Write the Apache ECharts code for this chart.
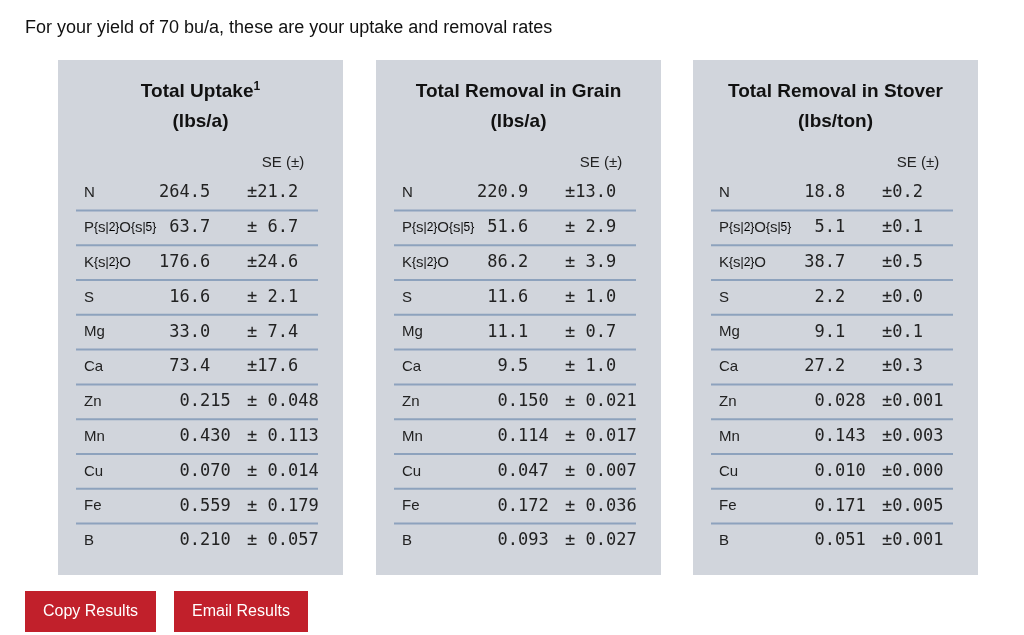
<!DOCTYPE html>
<html>
  <head>
    <meta charset="UTF-8" />
    <script src="https://cdn.jsdelivr.net/npm/echarts@6/dist/echarts.min.js"></script>
    <style>body{margin:0;background:#fff}</style>
  </head>
  <body>
    <div id="main"></div>
    <script>
      const width = 1024;
      const height = 635;
      const main = document.getElementById('main');
      main.style.width = `${width}px`;
      main.style.height = `${height}px`;

      const nutrients = ['N', 'P2O5', 'K2O', 'S', 'Mg', 'Ca', 'Zn', 'Mn', 'Cu', 'Fe', 'B'];
      const panelTitles = ['Total Uptake', 'Total Removal in Grain', 'Total Removal in Stover'];
      const panelUnits = ['(lbs/a)', '(lbs/a)', '(lbs/ton)'];
      const uptake = ['264.5', '63.7', '176.6', '16.6', '33.0', '73.4', '0.215', '0.430', '0.070', '0.559', '0.210'];
      const uptakeSE = ['±21.2', '± 6.7', '±24.6', '± 2.1', '± 7.4', '±17.6', '± 0.048', '± 0.113', '± 0.014', '± 0.179', '± 0.057'];
      const grain = ['220.9', '51.6', '86.2', '11.6', '11.1', '9.5', '0.150', '0.114', '0.047', '0.172', '0.093'];
      const grainSE = ['±13.0', '± 2.9', '± 3.9', '± 1.0', '± 0.7', '± 1.0', '± 0.021', '± 0.017', '± 0.007', '± 0.036', '± 0.027'];
      const stover = ['18.8', '5.1', '38.7', '2.2', '9.1', '27.2', '0.028', '0.143', '0.010', '0.171', '0.051'];
      const stoverSE = ['±0.2', '±0.1', '±0.5', '±0.0', '±0.1', '±0.3', '±0.001', '±0.003', '±0.010', '±0.005', '±0.001'];
      stoverSE[8] = '±0.000';

      const panels = [
        { values: uptake, se: uptakeSE },
        { values: grain, se: grainSE },
        { values: stover, se: stoverSE },
      ];
      const panelLeft = [58, 376, 693];
      const panelWidth = 285;
      const sans = 'Liberation Sans, Arial, sans-serif';
      const mono = 'DejaVu Sans Mono, monospace';
      const rowGap = 34.8;

      // pad integer part so decimal points line up
      const alignDec = (s) => s.split('.')[0].padStart(3, ' ') + '.' + s.split('.')[1];
      const labelRich = (n) =>
        n.replace(/(\d)/g, '{s|$1}').replace(/([A-Za-z]+)/g, '{t|$1}');

      const grids = [], xAxes = [], yAxes = [], series = [], graphics = [];
      graphics.push({
        type: 'text', left: 25, top: 19,
        style: { text: 'For your yield of 70 bu/a, these are your uptake and removal rates', font: `18px ${sans}`, fill: '#111' },
      });

      panels.forEach((p, i) => {
        const L = panelLeft[i];
        graphics.push({ type: 'rect', z: -10, shape: { x: L, y: 60, width: panelWidth, height: 515 }, style: { fill: '#d1d5dc' } });
        graphics.push({
          type: 'text', z: 5, x: L + panelWidth / 2, y: 92,
          style: {
            text: i === 0 ? `{b|${panelTitles[i]}}{sup|1}` : `{b|${panelTitles[i]}}`,
            align: 'center', verticalAlign: 'middle',
            rich: { b: { font: `bold 19px ${sans}`, fill: '#111' }, sup: { font: `bold 12px ${sans}`, fill: '#111', verticalAlign: 'top', padding: [0, 0, 10, 0] } },
          },
        });
        graphics.push({ type: 'text', z: 5, x: L + panelWidth / 2, y: 122, style: { text: panelUnits[i], font: `bold 19px ${sans}`, fill: '#111', align: 'center', verticalAlign: 'middle' } });
        graphics.push({ type: 'text', z: 5, x: L + 225, y: 163, style: { text: 'SE (±)', font: `15px ${sans}`, fill: '#222', align: 'center', verticalAlign: 'middle' } });

        grids.push({ left: L + 18, width: 242, top: 193 - rowGap / 2, height: rowGap * nutrients.length });
        xAxes.push({ gridIndex: i, type: 'value', min: 0, max: 1, show: false });
        yAxes.push({ gridIndex: i, type: 'category', data: nutrients, inverse: true, show: false });
        series.push({
          type: 'custom', xAxisIndex: i, yAxisIndex: i,
          data: nutrients.map((n, r) => [0, r, p.values[r], p.se[r]]),
          renderItem: (params, api) => {
            const r = api.value(1);
            const y = api.coord([0, r])[1];
            const x0 = api.coord([0, r])[0];
            const x1 = api.coord([1, r])[0];
            const children = [
              { type: 'text', style: { x: x0 + 8, y, text: labelRich(nutrients[r]), verticalAlign: 'middle',
                rich: { t: { font: `15px ${sans}`, fill: '#222' }, s: { font: `11px ${sans}`, fill: '#222', padding: [6, 0, 0, 0] } } } },
              { type: 'text', style: { x: x0 + 83, y, text: alignDec(p.values[r]), font: `17px ${mono}`, fill: '#222', verticalAlign: 'middle' } },
              { type: 'text', style: { x: x0 + 171, y, text: p.se[r], font: `17px ${mono}`, fill: '#222', verticalAlign: 'middle' } },
            ];
            if (r < nutrients.length - 1) {
              children.push({ type: 'line', shape: { x1: x0, y1: y + rowGap / 2, x2: x1, y2: y + rowGap / 2 }, style: { stroke: '#8da2bd', lineWidth: 2 } });
            }
            return { type: 'group', children };
          },
        });
      });

      [['Copy Results', 25, 131], ['Email Results', 174, 134]].forEach(([t, x, w]) => {
        graphics.push({ type: 'rect', shape: { x, y: 591, width: w, height: 41 }, style: { fill: '#c1202b' } });
        graphics.push({ type: 'text', x: x + w / 2, y: 611.5, style: { text: t, font: `16px ${sans}`, fill: '#fff', align: 'center', verticalAlign: 'middle' } });
      });

      const myChart = echarts.init(main);
      myChart.setOption({ animation: false, grid: grids, xAxis: xAxes, yAxis: yAxes, series, graphic: graphics });
    </script>
  </body>
</html>
